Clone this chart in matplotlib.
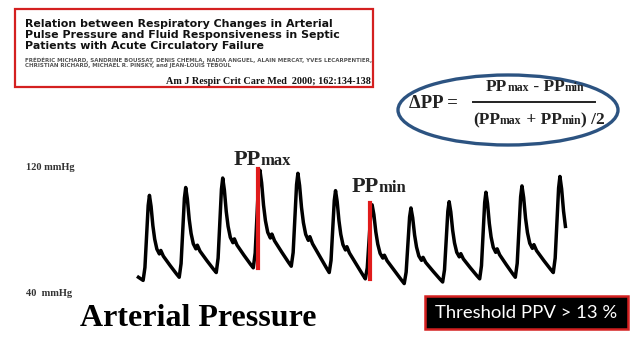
import matplotlib
matplotlib.use("Agg")
import matplotlib.pyplot as plt
from matplotlib.patches import Ellipse, Rectangle
from matplotlib.offsetbox import TextArea, HPacker, AnnotationBbox
import numpy as np

# beat onsets (s) and pressures (mmHg)
onsets = [0.28, 1.05, 1.84, 2.63, 3.44, 4.25, 5.02, 5.85, 6.67, 7.46, 8.22, 9.03]
peaks = [102, 107, 113, 118, 116, 105, 96, 94, 98, 104, 108, 114]
troughs = [48, 50, 53, 56, 57, 53, 49, 46, 47, 49, 50, 53]
start_value = 50
pp_max_beat = 3
pp_min_beat = 6

title_lines = ["Relation between Respiratory Changes in Arterial",
               "Pulse Pressure and Fluid Responsiveness in Septic",
               "Patients with Acute Circulatory Failure"]
authors = ["FRÉDÉRIC MICHARD, SANDRINE BOUSSAT, DENIS CHEMLA, NADIA ANGUEL, ALAIN MERCAT, YVES LECARPENTIER,",
           "CHRISTIAN RICHARD, MICHAEL R. PINSKY, and JEAN-LOUIS TEBOUL"]
journal = "Am J Respir Crit Care Med  2000; 162:134-138"

# shape of one beat: (fraction of period, fraction of pulse height)
shape_t = [0, 0.05, 0.10, 0.14, 0.175, 0.22, 0.27, 0.32, 0.38, 0.45, 0.49, 0.56, 0.75, 0.93]
shape_a = [0, 0.15, 0.55, 0.88, 1.0, 0.87, 0.64, 0.48, 0.36, 0.30, 0.34, 0.27, 0.15, 0.04]

ts, vs = [onsets[0] - 0.1], [start_value]
for i, t0 in enumerate(onsets):
    last = i == len(onsets) - 1
    T = onsets[i + 1] - t0 if not last else onsets[i] - onsets[i - 1]
    nxt = troughs[i + 1] if not last else troughs[i]
    for f, a in zip(shape_t, shape_a):
        if last and f > 0.34:
            break
        base = troughs[i] + (nxt - troughs[i]) * f
        ts.append(t0 + f * T)
        vs.append(base + a * (peaks[i] - base))

fig = plt.figure(figsize=(6.38, 3.59), dpi=100)
bg = fig.add_axes([0, 0, 1, 1])
bg.set_xlim(0, 638)
bg.set_ylim(359, 0)
bg.axis("off")

ax = fig.add_axes([130 / 638, (359 - 293) / 359, 450 / 638, 126 / 359])
ax.set_xlim(0, 9.6)
ax.set_ylim(40, 120)
ax.axis("off")
ax.plot(ts, vs, color="black", lw=2.5, clip_on=False, solid_joinstyle="round")
for b in (pp_max_beat, pp_min_beat):
    x = onsets[b] + 0.11
    ax.plot([x, x], [troughs[b], peaks[b] + 1], color="#e01b1b", lw=3, clip_on=False)

# article box
bg.add_patch(Rectangle((15, 9), 358, 78, fill=False, edgecolor="#d42020", lw=1.6))
for k, line in enumerate(title_lines):
    bg.text(25, 24 + 11 * k, line, fontsize=7.9, fontweight="bold", family="DejaVu Sans",
            va="center", color="#111")
for k, line in enumerate(authors):
    bg.text(25, 60 + 6 * k, line, fontsize=3.95, fontweight="bold", family="DejaVu Sans",
            va="center", color="#555")
bg.text(371, 81, journal, fontsize=7.3, fontweight="bold", family="Liberation Serif",
        ha="right", va="center", color="#111")

# formula
bg.add_patch(Ellipse((508, 110), 220, 70, fill=False, edgecolor="#2c5381", lw=2.4))
serif = dict(family="Liberation Serif", fontweight="bold", color="#222")


def pack(parts, xy):
    boxes = [TextArea(s, textprops=dict(fontsize=fs, **serif)) for s, fs in parts]
    hp = HPacker(children=boxes, align="baseline", pad=0, sep=0)
    bg.add_artist(AnnotationBbox(hp, xy, xycoords="data", frameon=False, box_alignment=(0.5, 0.5), pad=0))


bg.text(409, 104, "ΔPP =", fontsize=13.5, va="center", **serif)
pack([("PP", 12.5), ("max", 8.5), (" - PP", 12.5), ("min", 8.5)], (535, 87))
bg.plot([473, 595], [102, 102], color="#222", lw=1.4)
pack([("(PP", 12.5), ("max", 8.5), (" + PP", 12.5), ("min", 8.5), (") /2", 12.5)], (539, 120))

# trace labels
pack([("PP", 16), ("max", 12)], (262, 160))
pack([("PP", 16), ("min", 12)], (379, 187))
bg.text(26, 167, "120 mmHg", fontsize=7.5, va="center", color="#333", family="Liberation Serif", fontweight="bold")
bg.text(26, 293, "40  mmHg", fontsize=7.5, va="center", color="#333", family="Liberation Serif", fontweight="bold")
bg.text(198, 318, "Arterial Pressure", fontsize=23, ha="center", va="center",
        family="Liberation Serif", fontweight="bold", color="black")

bg.add_patch(Rectangle((425, 296), 203, 33, facecolor="black", edgecolor="#d42020", lw=1.8))
bg.text(526, 313, "Threshold PPV > 13 %", fontsize=13.3, ha="center", va="center",
        color="white", family="Lato")

fig.savefig("out.png", dpi=100)
